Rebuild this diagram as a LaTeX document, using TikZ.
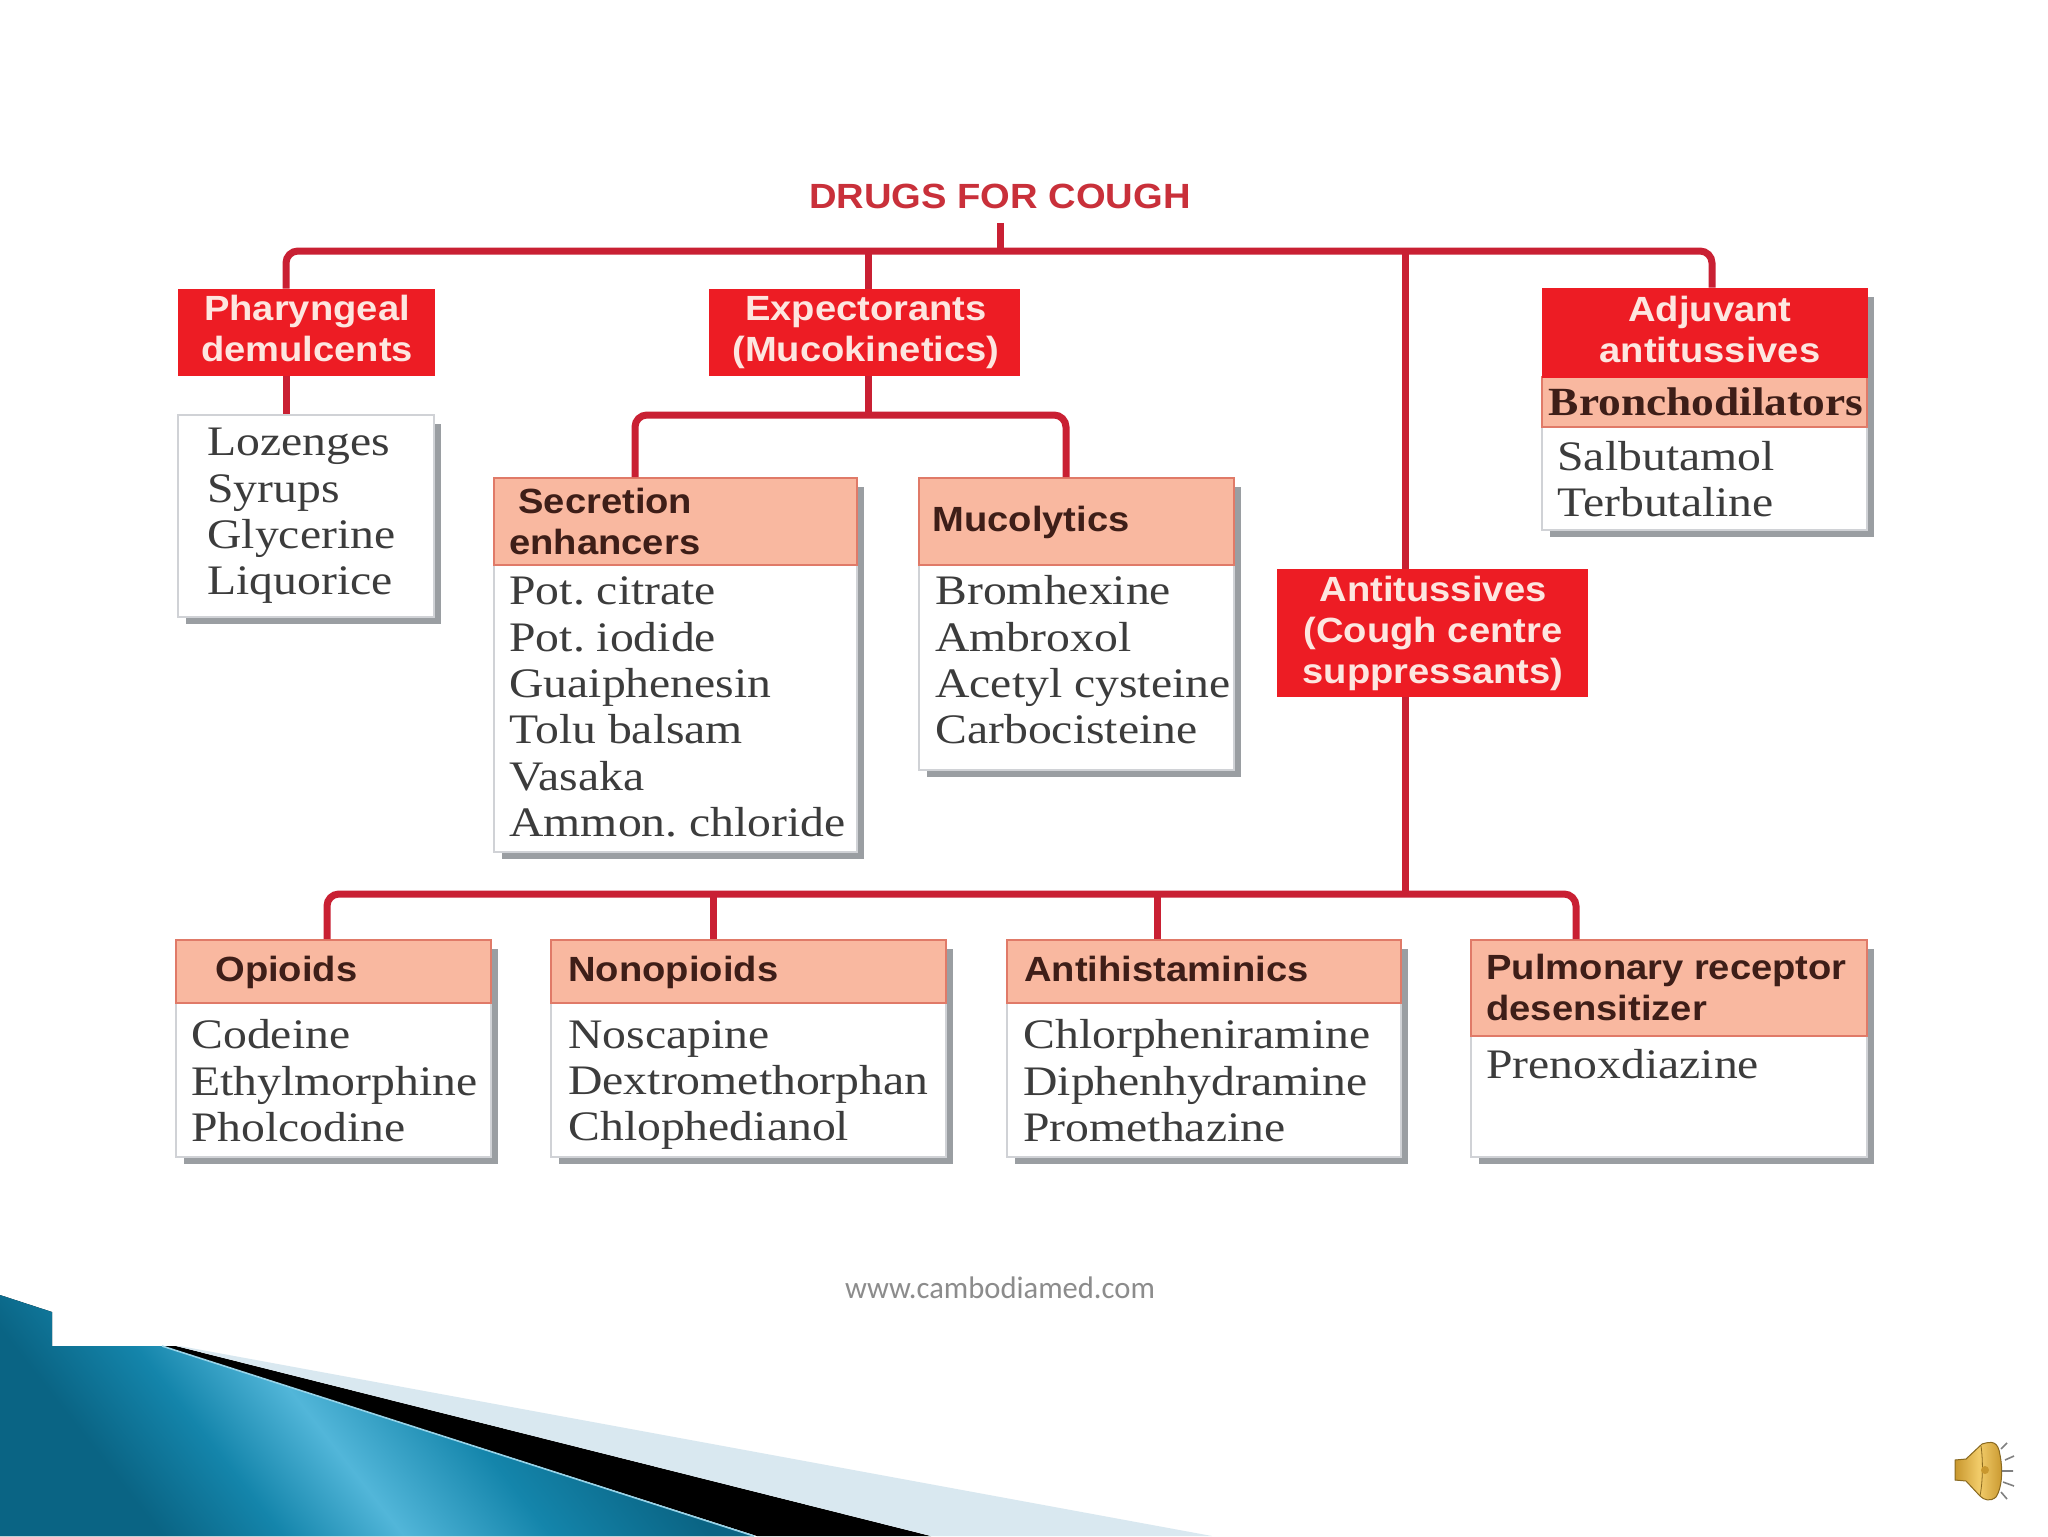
\documentclass[tikz,border=0pt]{standalone}
\usepackage{fontspec}
\setmainfont{Liberation Serif}
\newfontfamily\hfont[FakeStretch=1.09,BoldFont={Liberation Sans Bold}]{Liberation Sans}
\newfontfamily\bfont[FakeStretch=1.135]{Liberation Serif}
\newfontfamily\wfont[FakeStretch=0.98]{Carlito}
\usetikzlibrary{calc}
\frenchspacing
\definecolor{redbox}{HTML}{ED1C24}
\definecolor{headfill}{HTML}{F9B8A0}
\definecolor{headline}{HTML}{E07A68}
\definecolor{conncol}{HTML}{C92033}
\definecolor{titlecol}{HTML}{C9303A}
\definecolor{bodytext}{HTML}{3C3C3C}
\definecolor{headtext}{HTML}{3E1E18}
\definecolor{whitetext}{HTML}{FDE6E0}
\definecolor{shadowcol}{HTML}{9A9EA2}
\definecolor{cardline}{HTML}{D0D2D6}
\definecolor{paleblue}{HTML}{D9E8F0}
\definecolor{blue1}{HTML}{0A6484}
\definecolor{blue2}{HTML}{1485AB}
\definecolor{blue3}{HTML}{52B6D9}
\definecolor{goldlight}{HTML}{F2CC6A}
\definecolor{golddark}{HTML}{C8972E}
\definecolor{goldedge}{HTML}{8A6A20}
\pgfdeclarehorizontalshading{bluegrad}{100bp}{
 color(0bp)=(blue1);
 color(27bp)=(blue1); color(36bp)=(blue2); color(45bp)=(blue3);
 color(56bp)=(blue2); color(68bp)=(blue1); color(100bp)=(blue1)}
\tikzset{
  x=0.5pt,y=-0.5pt,
  conn/.style={draw=conncol,line width=3.5pt},
  redstyle/.style={fill=redbox,draw=redbox,line width=0.5pt,inner sep=0pt},
  headstyle/.style={fill=headfill,draw=headline,line width=1pt,inner sep=0pt},
  cardstyle/.style={fill=white,draw=cardline,line width=1pt,inner sep=0pt},
  redtext/.style={inner sep=0pt,align=center,text=whitetext,font=\hfont\bfseries\fontsize{17.5}{20.5}\selectfont},
  headlabel/.style={inner sep=0pt,anchor=west,align=left,text=headtext,font=\hfont\bfseries\fontsize{17.5}{20.5}\selectfont},
  bodylist/.style={inner sep=0pt,anchor=west,align=left,text=bodytext,font=\bfont\fontsize{21}{23.2}\selectfont},
}
\newcommand{\mkbox}[6]{%
  \pgfmathsetmacro\bxw{(#5-#3)/2}\pgfmathsetmacro\bxh{(#6-#4)/2}%
  \pgfmathsetmacro\bxx{(#3+#5)/2}\pgfmathsetmacro\bxy{(#4+#6)/2}%
  \node[#2,minimum width=\bxw pt,minimum height=\bxh pt] (#1) at (\bxx,\bxy) {};}
\newcommand{\mkshadow}[4]{\fill[shadowcol] (#1+8,#2+9) rectangle (#3+7,#4+7);}
\begin{document}
\begin{tikzpicture}
\useasboundingbox (0,0) rectangle (2048,1536);
\fill[white] (0,0) rectangle (2048,1536);
% slide decoration
\fill[shading=bluegrad,shading angle=38] (0,1295) -- (52,1312) -- (52,1346) -- (162,1346) -- (754,1536) -- (0,1536) -- cycle;
\fill[black] (162,1346) -- (176,1346) -- (931,1536) -- (757,1536) -- cycle;
\draw[blue3!60!white,line width=0.8pt] (162,1346) -- (754,1536);
\fill[paleblue] (176,1346) -- (180,1346) -- (1212,1536) -- (931,1536) -- cycle;
% speaker
\fill[left color=golddark,right color=golddark,middle color=goldlight] (1955,1460) -- (1966,1459) -- (1982,1444) .. controls (1992,1441) and (1998,1441) .. (2000,1455) .. controls (2003,1470) and (2002,1488) .. (1996,1497) .. controls (1990,1502) and (1984,1500) .. (1980,1496) -- (1966,1481) -- (1955,1480) -- cycle;
\draw[goldedge,line width=0.5pt] (1955,1460) -- (1966,1459) -- (1982,1444) .. controls (1992,1441) and (1998,1441) .. (2000,1455) .. controls (2003,1470) and (2002,1488) .. (1996,1497) .. controls (1990,1502) and (1984,1500) .. (1980,1496) -- (1966,1481) -- (1955,1480) -- cycle;
\draw[goldedge,line width=0.4pt] (1981,1446) .. controls (1983,1460) and (1983,1480) .. (1980,1496);
\fill[golddark] (1985,1470) circle[radius=4];
\draw[gray,line width=0.8pt] (2001,1449) -- (2007,1443) (2005,1460) -- (2014,1456) (2002,1471) -- (2013,1471) (2003,1482) -- (2014,1486) (2001,1492) -- (2007,1499);
% boxes
\mkbox{ph}{redstyle}{178}{289}{434}{375}
\mkshadow{178}{415}{434}{617}
\mkbox{loz}{cardstyle}{178}{415}{434}{617}
\mkbox{exp}{redstyle}{709}{289}{1019}{375}
\mkshadow{494}{478}{857}{852}
\mkbox{secb}{cardstyle}{494}{565}{857}{852}
\mkbox{sec}{headstyle}{494}{478}{857}{565}
\mkshadow{919}{478}{1234}{770}
\mkbox{mucb}{cardstyle}{919}{565}{1234}{770}
\mkbox{muc}{headstyle}{919}{478}{1234}{565}
\mkbox{anti}{redstyle}{1277}{569}{1587}{696}
\mkshadow{1542}{288}{1867}{530}
\mkbox{adjb}{cardstyle}{1542}{427}{1867}{530}
\mkbox{bron}{headstyle}{1542}{377}{1867}{427}
\mkbox{adj}{redstyle}{1542}{288}{1867}{377}
\mkshadow{176}{940}{491}{1157}
\mkbox{opb}{cardstyle}{176}{1003}{491}{1157}
\mkbox{op}{headstyle}{176}{940}{491}{1003}
\mkshadow{551}{940}{946}{1157}
\mkbox{nonb}{cardstyle}{551}{1003}{946}{1157}
\mkbox{non}{headstyle}{551}{940}{946}{1003}
\mkshadow{1007}{940}{1401}{1157}
\mkbox{ahb}{cardstyle}{1007}{1003}{1401}{1157}
\mkbox{ah}{headstyle}{1007}{940}{1401}{1003}
\mkshadow{1471}{940}{1867}{1157}
\mkbox{pulb}{cardstyle}{1471}{1036}{1867}{1157}
\mkbox{pul}{headstyle}{1471}{940}{1867}{1036}
% title
\node[inner sep=0pt,text=titlecol,font=\hfont\bfseries\fontsize{17.5}{20}\selectfont] (title) at (1000,196) {DRUGS FOR COUGH};
% connector anchors
\coordinate (busL) at (286,251);
\coordinate (busE) at (868,251);
\coordinate (busA) at (1405,251);
\coordinate (busR) at (1712,251);
\coordinate (splitL) at (635,415);
\coordinate (splitR) at (1066,415);
\coordinate (lowL) at (327,894);
\coordinate (lowN) at (713,894);
\coordinate (lowH) at (1157,894);
\coordinate (lowR) at (1576,894);
% connectors
\draw[conn,shorten <=7pt] (title.south) -- (title.south |- busL);
\draw[conn,rounded corners=6pt] (busL |- ph.north) -- (busL) -- (busR) -- (busR |- adj.north);
\draw[conn] (busE) -- (busE |- exp.north);
\draw[conn] (busA) -- (busA |- anti.north);
\draw[conn] (busL |- ph.south) -- (busL |- loz.north);
\draw[conn] (busE |- exp.south) -- (busE |- splitL);
\draw[conn,rounded corners=6pt] (splitL |- sec.north) -- (splitL) -- (splitR) -- (splitR |- muc.north);
\draw[conn] (busA |- anti.south) -- (busA |- lowL);
\draw[conn,rounded corners=6pt] (lowL |- op.north) -- (lowL) -- (lowR) -- (lowR |- pul.north);
\draw[conn] (lowN) -- (lowN |- non.north);
\draw[conn] (lowH) -- (lowH |- ah.north);
% labels
\node[redtext] (phT) at (307,328) {Pharyngeal\\demulcents};
\node[redtext] (expT) at (866,333) {Expectorants\\(Mucokinetics)};
\node[redtext] (adjT) at (1710,329) {Adjuvant\\antitussives};
\node[redtext] (antiT) at (1433,633) {Antitussives\\(Cough centre\\suppressants)};
\node[inner sep=0pt,text=headtext,font=\bfont\bfseries\fontsize{20}{23}\selectfont] (bronT) at (1706,402) {Bronchodilators};
\node[headlabel] (secT) at (509,521) {\hspace*{4.5pt}Secretion\\enhancers};
\node[headlabel] (mucT) at (932,522) {Mucolytics};
\node[headlabel] (opT) at (215,972) {Opioids};
\node[headlabel] (nonT) at (568,972) {Nonopioids};
\node[headlabel] (ahT) at (1024,969) {Antihistaminics};
\node[headlabel] (pulT) at (1486,987) {Pulmonary receptor\\desensitizer};
\node[bodylist] (lozT) at (207,516) {Lozenges\\Syrups\\Glycerine\\Liquorice};
\node[bodylist] (secL) at (509,707) {Pot. citrate\\Pot. iodide\\Guaiphenesin\\Tolu balsam\\Vasaka\\Ammon. chloride};
\node[bodylist] (mucL) at (935,660) {Bromhexine\\Ambroxol\\Acetyl cysteine\\Carbocisteine};
\node[bodylist] (adjL) at (1557,479) {Salbutamol\\Terbutaline};
\node[bodylist] (opL) at (191,1081) {Codeine\\Ethylmorphine\\Pholcodine};
\node[bodylist] (nonL) at (568,1085) {Noscapine\\Dextromethorphan\\Chlophedianol};
\node[bodylist] (ahL) at (1023,1081) {Chlorpheniramine\\Diphenhydramine\\Promethazine};
\node[bodylist] (pulL) at (1486,1064) {Prenoxdiazine};
\node[inner sep=0pt,text=black!45,font=\wfont\fontsize{15.6}{17}\selectfont] (web) at (1000,1288) {www.cambodiamed.com};
\end{tikzpicture}
\end{document}
